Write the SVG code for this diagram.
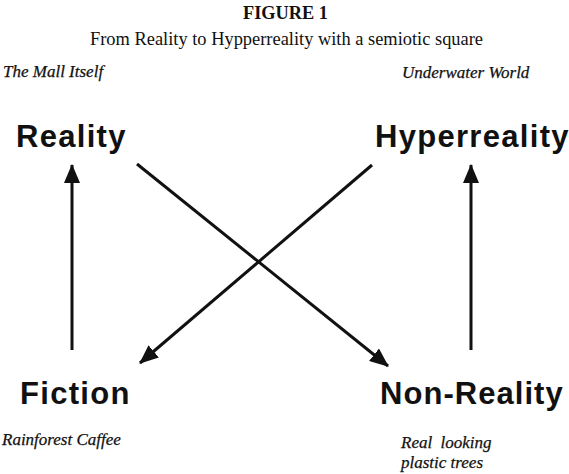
<svg xmlns="http://www.w3.org/2000/svg" width="569" height="474" viewBox="0 0 569 474">
<style>
.title{font-family:"Liberation Serif",serif;font-weight:bold;font-size:18px;fill:#111}
.sub{font-family:"Liberation Serif",serif;font-size:19px;fill:#111}
.ex{font-family:"Liberation Serif",serif;font-style:italic;font-size:17px;fill:#111;stroke:#111;stroke-width:0.25}
.big{font-family:"Liberation Sans",sans-serif;font-weight:bold;font-size:31px;letter-spacing:1.3px;fill:#111}
.conn{stroke:#111;stroke-width:3;fill:none}
</style>
<defs>
<marker id="ah" viewBox="0 0 19 16" refX="18" refY="8" markerWidth="19" markerHeight="16" markerUnits="userSpaceOnUse" orient="auto">
<path d="M0,0 L19,8 L0,16 Z" fill="#111"/>
</marker>
</defs>
<rect width="569" height="474" fill="#fff"/>
<text class="title" x="243" y="19" textLength="85" lengthAdjust="spacingAndGlyphs">FIGURE 1</text>
<text class="sub" x="90" y="45" textLength="393" lengthAdjust="spacingAndGlyphs">From Reality to Hypperreality with a semiotic square</text>
<g id="reality">
<text class="big" x="16" y="147">Reality</text>
<text class="ex" x="3" y="77">The Mall Itself</text>
</g>
<g id="hyperreality">
<text class="big" x="375" y="147">Hyperreality</text>
<text class="ex" x="402" y="78">Underwater World</text>
</g>
<g id="fiction">
<text class="big" x="20" y="404">Fiction</text>
<text class="ex" x="2" y="445">Rainforest Caffee</text>
</g>
<g id="nonreality">
<text class="big" x="380" y="404" textLength="184">Non-Reality</text>
<text class="ex" x="401" y="448" word-spacing="4">Real looking</text>
<text class="ex" x="401" y="468">plastic trees</text>
</g>
<g id="connectors">
<line class="conn" x1="72" y1="350" x2="72" y2="165" marker-end="url(#ah)"/>
<line class="conn" x1="471" y1="350" x2="471" y2="165" marker-end="url(#ah)"/>
<line class="conn" x1="137" y1="164" x2="388" y2="366" marker-end="url(#ah)"/>
<line class="conn" x1="372" y1="165" x2="140" y2="363" marker-end="url(#ah)"/>
</g>
</svg>
